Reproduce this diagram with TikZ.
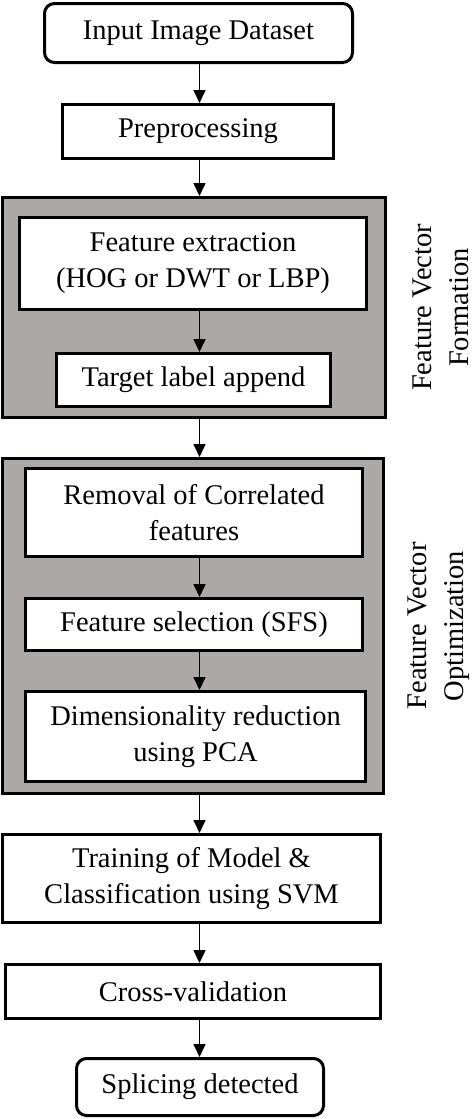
\documentclass[tikz,border=0pt]{standalone}
\usepackage{fontspec}
\setmainfont{Liberation Serif}
\usetikzlibrary{arrows.meta}
\definecolor{panelgray}{RGB}{172,168,168}
\tikzset{
  box/.style={draw=black, line width=3pt, fill=white, align=center, inner sep=0pt,
    font=\fontsize{28.5}{36}\selectfont},
  rbox/.style={box, rounded corners=10pt},
  panel/.style={draw=black, line width=3pt, fill=panelgray, inner sep=0pt},
  sidelabel/.style={rotate=90, align=center, inner sep=0pt,
    font=\fontsize{28.5}{37}\selectfont},
  arr/.style={line width=1.6pt, -{Triangle[length=13pt,width=12pt]}}
}
\begin{document}
\begin{tikzpicture}[x=1pt,y=-1pt]
\useasboundingbox (0,0) rectangle (474,1119);
\coordinate (X) at (199.5,0);
\node[rbox, minimum width=308pt, minimum height=59pt] (input) at (198.5,33) {Input Image Dataset};
\node[box, minimum width=271pt, minimum height=54pt] (pre) at (198,131.5) {Preprocessing};
\node[panel, minimum width=383pt, minimum height=220pt] (fvf) at (194,307.5) {};
\node[box, minimum width=347pt, minimum height=92pt] (fe) at (193,263.5) {Feature extraction\\(HOG or DWT or LBP)};
\node[box, minimum width=274pt, minimum height=53pt] (tla) at (193.5,380) {Target label append};
\node[panel, minimum width=381pt, minimum height=335pt] (fvo) at (193,626) {};
\node[box, minimum width=337pt, minimum height=88pt] (rem) at (194,512.5) {Removal of Correlated\\features};
\node[box, minimum width=337pt, minimum height=52pt] (sfs) at (194,624.5) {Feature selection (SFS)};
\node[box, minimum width=340pt, minimum height=90pt] (pca) at (195.5,736.5) {Dimensionality reduction\\using PCA};
\node[box, minimum width=378pt, minimum height=88pt] (svm) at (191.5,878.5) {Training of Model \&\\Classification using SVM};
\node[box, minimum width=375pt, minimum height=54pt] (cv) at (193,991.5) {Cross-validation};
\node[rbox, minimum width=247pt, minimum height=57pt] (sd) at (200,1087) {Splicing detected};
\node[sidelabel] (lab1) at (441,307.5) {Feature Vector\\Formation};
\node[sidelabel] (lab2) at (438.5,626) {Feature Vector\\Optimization};
\draw[arr] (input.south -| X) -- (pre.north -| X);
\draw[arr] (pre.south -| X) -- (fvf.north -| X);
\draw[arr] (fe.south -| X) -- (tla.north -| X);
\draw[arr] (fvf.south -| X) -- (fvo.north -| X);
\draw[arr] (rem.south -| X) -- (sfs.north -| X);
\draw[arr] (sfs.south -| X) -- (pca.north -| X);
\draw[arr] (fvo.south -| X) -- (svm.north -| X);
\draw[arr] (svm.south -| X) -- (cv.north -| X);
\draw[arr] (cv.south -| X) -- (sd.north -| X);
\end{tikzpicture}
\end{document}
